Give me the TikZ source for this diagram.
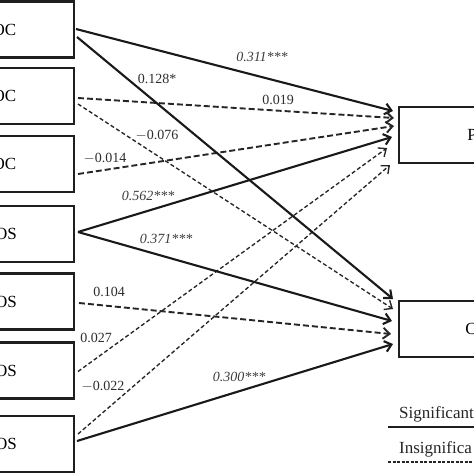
\documentclass[tikz,border=0pt]{standalone}
\usepackage{fontspec}
\setmainfont{Liberation Serif}
\usetikzlibrary{arrows.meta,calc}
\begin{document}
\begin{tikzpicture}[x=1pt,y=-1pt,
  box/.style={draw=black!88,line width=2.5pt,rectangle,minimum height=56pt,inner sep=0pt,outer sep=0pt,font=\fontsize{17}{20}\selectfont},
  lab/.style={font=\fontsize{14}{16}\selectfont,text=black!82,inner sep=0pt},
  ilab/.style={font=\fontsize{14}{16}\selectfont\itshape,text=black!76,inner sep=0pt},
  tip/.style={-{Straight Barb[length=6.5pt,width=11pt]}},
  sig/.style={draw=black!90,line width=2.1pt,tip},
  nsb/.style={draw=black!85,line width=1.9pt,dash pattern=on 6pt off 3pt,tip},
  nst/.style={draw=black!85,line width=1.35pt,dash pattern=on 4pt off 2.5pt,tip},
  legtext/.style={font=\fontsize{17}{20}\selectfont,text=black!85,inner sep=0pt,anchor=base west}
]
\clip (0,0) rectangle (474,474);
\fill[white] (0,0) rectangle (474,474);

% left boxes
\node[box,minimum width=139pt] (b1) at (4.5,29.5) {OC};
\node[box,minimum width=139pt] (b2) at (4.5,96) {OC};
\node[box,minimum width=139pt] (b3) at (4.5,164) {OC};
\node[box,minimum width=136pt] (b4) at (6,234) {OS};
\node[box,minimum width=136pt] (b5) at (6,301.5) {OS};
\node[box,minimum width=136pt] (b6) at (6,370.5) {OS};
\node[box,minimum width=136pt] (b7) at (6,444) {OS};

% right boxes
\node[box,minimum width=146pt] (p) at (472,135) {P};
\node[box,minimum width=144pt] (c) at (471,329) {C};

% paths to P
\draw[sig] ($(b1.east)+(2,-0.5)$) -- ($(p.west)+(-6,-24)$);
\draw[nsb] ($(b2.east)+(4,2)$) -- ($(p.west)+(-5,-17)$);
\draw[nsb] ($(b3.east)+(4,10)$) -- ($(p.west)+(-5,-9)$);
\draw[sig] ($(b4.east)+(4,-2)$) -- ($(p.west)+(-7,2)$);
\draw[nst] ($(b6.east)+(4,1)$) -- ($(p.west)+(-12,13)$);
\draw[nst] ($(b7.east)+(4,-10)$) -- ($(p.west)+(-9,30)$);

% paths to C
\draw[sig] ($(b1.east)+(3,7.5)$) -- ($(c.west)+(-6,-30)$);
\draw[nst] ($(b2.east)+(4,8)$) -- ($(c.west)+(-6,-20)$);
\draw[sig] ($(b4.east)+(4,-2)$) -- ($(c.west)+(-7,-8)$);
\draw[nsb] ($(b5.east)+(5,1.5)$) -- ($(c.west)+(-8,5)$);
\draw[sig] ($(b7.east)+(3,-3)$) -- ($(c.west)+(-6,15)$);

% labels
\node[ilab] (l1) at (262,57) {0.311***};
\node[lab] (l2) at (157,79) {0.128*};
\node[lab] (l3) at (278,100) {0.019};
\node[lab] (l4) at (157,135) {$-$0.076};
\node[lab] (l5) at (105,158) {$-$0.014};
\node[ilab] (l6) at (148,196) {0.562***};
\node[ilab] (l7) at (166,239) {0.371***};
\node[lab] (l8) at (109,292) {0.104};
\node[lab] (l9) at (96,338) {0.027};
\node[lab] (l10) at (103,386) {$-$0.022};
\node[ilab] (l11) at (239,377) {0.300***};

% legend
\node[legtext] (sigtext) at (399,418) {Significant};
\node[legtext] (instext) at (399,453) {Insignifica};
\coordinate (s1) at (388,427);
\coordinate (s2) at (480,427);
\coordinate (d1) at (388,462);
\coordinate (d2) at (480,462);
\draw[black!88,line width=1.9pt] (s1) -- (s2);
\draw[black!85,line width=1.7pt,dash pattern=on 3pt off 1.5pt] (d1) -- (d2);
\end{tikzpicture}
\end{document}
